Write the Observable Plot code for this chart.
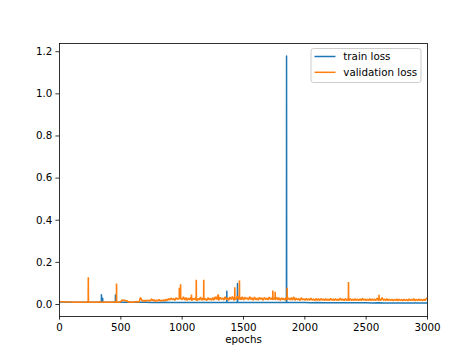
<!DOCTYPE html>
<html>
<head>
<meta charset="utf-8">
<script src="https://cdn.jsdelivr.net/npm/d3@7"></script>
<script src="https://cdn.jsdelivr.net/npm/@observablehq/plot@0.6"></script>
<style>
  html, body { margin: 0; padding: 0; background: #fff; }
  #chart { width: 474px; height: 355px; }
</style>
</head>
<body>
<div id="chart"></div>
<script>
// ---- data ----
const seriesNames = ["train loss", "validation loss"];
const seriesColors = ["#1f77b4", "#ff7f0e"];
const xTicks = [0, 500, 1000, 1500, 2000, 2500, 3000];
const yTicks = [0.0, 0.2, 0.4, 0.6, 0.8, 1.0, 1.2];

// validation loss sampled every 10 epochs (0..3000)
const valStep = 10;
const valBase = [
  0.014,0.013,0.013,0.013,0.012,0.013,0.012,0.012,0.012,0.012,
  0.012,0.011,0.012,0.011,0.012,0.011,0.011,0.012,0.011,0.011,
  0.011,0.012,0.011,0.013,0.011,0.012,0.011,0.011,0.012,0.011,
  0.011,0.012,0.011,0.013,0.011,0.011,0.012,0.011,0.011,0.012,
  0.011,0.011,0.012,0.011,0.011,0.013,0.011,0.012,0.011,0.011,
  0.014,0.022,0.019,0.021,0.017,0.018,0.012,0.013,0.011,0.012,
  0.011,0.013,0.012,0.014,0.012,0.013,0.033,0.022,0.016,0.019,
  0.015,0.021,0.017,0.020,0.016,0.026,0.018,0.023,0.015,0.021,
  0.017,0.024,0.016,0.020,0.018,0.022,0.017,0.025,0.019,0.028,
  0.022,0.030,0.024,0.027,0.020,0.032,0.025,0.028,0.030,0.026,
  0.024,0.036,0.021,0.033,0.019,0.030,0.022,0.034,0.020,0.029,
  0.023,0.031,0.019,0.028,0.022,0.035,0.020,0.030,0.024,0.027,
  0.019,0.032,0.022,0.029,0.020,0.033,0.021,0.036,0.024,0.043,
  0.022,0.034,0.025,0.030,0.021,0.037,0.023,0.031,0.020,0.035,
  0.024,0.038,0.022,0.033,0.025,0.040,0.027,0.034,0.023,0.036,
  0.021,0.034,0.026,0.031,0.022,0.037,0.024,0.032,0.020,0.035,
  0.023,0.030,0.021,0.034,0.025,0.031,0.020,0.033,0.024,0.029,
  0.022,0.035,0.024,0.031,0.021,0.030,0.025,0.034,0.022,0.032,
  0.020,0.031,0.023,0.029,0.021,0.034,0.024,0.030,0.022,0.033,
  0.021,0.036,0.020,0.030,0.023,0.028,0.019,0.032,0.022,0.027,
  0.020,0.029,0.021,0.027,0.020,0.030,0.021,0.026,0.019,0.028,
  0.020,0.027,0.019,0.028,0.021,0.026,0.019,0.027,0.020,0.025,
  0.019,0.029,0.020,0.026,0.019,0.027,0.020,0.025,0.019,0.030,
  0.020,0.026,0.019,0.028,0.020,0.025,0.019,0.027,0.020,0.025,
  0.019,0.027,0.020,0.025,0.019,0.026,0.019,0.029,0.020,0.026,
  0.019,0.025,0.020,0.027,0.019,0.026,0.020,0.025,0.019,0.030,
  0.019,0.026,0.019,0.033,0.020,0.025,0.019,0.027,0.019,0.025,
  0.019,0.025,0.018,0.024,0.019,0.026,0.018,0.025,0.019,0.024,
  0.018,0.025,0.019,0.024,0.018,0.026,0.019,0.024,0.019,0.027,
  0.018,0.024,0.019,0.026,0.019,0.024,0.018,0.025,0.019,0.028,
  0.030
];
// validation spikes: [epoch, loss] with their neighbouring epochs
const valSpikes = [
  [234,0.012],[235,0.129],[236,0.011],
  [464,0.011],[465,0.100],[466,0.012],
  [976,0.026],[977,0.080],[978,0.028],
  [986,0.027],[987,0.096],[988,0.025],
  [1075,0.022],[1076,0.047],[1077,0.021],
  [1114,0.020],[1115,0.117],[1116,0.022],
  [1175,0.021],[1176,0.118],[1177,0.024],
  [1294,0.023],[1295,0.048],[1296,0.022],
  [1428,0.023],[1429,0.082],[1430,0.025],
  [1466,0.024],[1467,0.114],[1468,0.026],
  [1738,0.022],[1739,0.066],[1740,0.024],
  [1757,0.023],[1758,0.060],[1759,0.021],
  [1855,0.022],[1856,0.080],[1857,0.024],
  [2355,0.020],[2356,0.107],[2357,0.021],
  [2604,0.020],[2605,0.046],[2606,0.021]
];

// train loss sampled every 50 epochs (0..3000)
const trainStep = 50;
const trainBase = [
  0.012,0.012,0.011,0.011,0.011,0.011,0.011,0.011,0.011,0.011,
  0.011,0.011,0.011,0.011,0.011,0.010,0.010,0.011,0.010,0.010,
  0.010,0.010,0.010,0.010,0.010,0.010,0.010,0.009,0.010,0.010,
  0.009,0.010,0.009,0.009,0.009,0.009,0.009,0.009,0.009,0.009,
  0.009,0.008,0.009,0.008,0.008,0.008,0.008,0.008,0.008,0.008,
  0.008,0.007,0.008,0.007,0.007,0.007,0.007,0.007,0.007,0.007,
  0.007
];
// train spikes: [epoch, loss] with their neighbouring epochs
const trainSpikes = [
  [341,0.011],[342,0.046],[343,0.011],
  [351,0.011],[352,0.030],[353,0.011],
  [455,0.011],[456,0.045],[457,0.011],
  [1363,0.010],[1364,0.063],[1365,0.010],
  [1450,0.010],[1451,0.100],[1452,0.010],
  [1850,0.009],[1851,1.180],[1852,0.009]
];

// ---- build tables ----
const build = (base, step, spikes, name) =>
  base.map((v, i) => ({epoch: i * step, loss: v, series: name}))
    .concat(spikes.map(([e, v]) => ({epoch: e, loss: v, series: name})))
    .sort((a, b) => a.epoch - b.epoch);
const train = build(trainBase, trainStep, trainSpikes, seriesNames[0]);
const val = build(valBase, valStep, valSpikes, seriesNames[1]);

const font = "DejaVu Sans, sans-serif";
const fs = 10.3;

const chart = Plot.plot({
  width: 474,
  height: 355,
  marginLeft: 59,
  marginRight: 47,
  marginTop: 43,
  marginBottom: 39,
  style: {fontFamily: font, fontSize: fs + "px", color: "#000", background: "#fff", overflow: "visible"},
  x: {domain: [0, 3000]},
  y: {domain: [-0.057, 1.239]},
  marks: [
    Plot.line(train, {x: "epoch", y: "loss", stroke: seriesColors[0], strokeWidth: 1.5, strokeLinejoin: "round", clip: true}),
    Plot.line(val, {x: "epoch", y: "loss", stroke: seriesColors[1], strokeWidth: 1.6, strokeLinejoin: "miter", clip: true}),
    Plot.frame({stroke: "#000", strokeWidth: 0.8}),
    Plot.axisX({ticks: xTicks, tickSize: 3.6, tickPadding: 4, strokeWidth: 0.8, label: null, fontSize: fs, fill: "#000", tickFormat: d => String(d)}),
    Plot.axisY({ticks: yTicks, tickSize: 3.6, tickPadding: 3.5, strokeWidth: 0.8, label: null, fontSize: fs, fill: "#000", tickFormat: d => d.toFixed(1)}),
    Plot.text(["epochs"], {frameAnchor: "bottom", dy: 26, text: d => d, fontSize: fs, fill: "#000"})
  ]
});

// legend (upper right, matplotlib style)
const svg = d3.select(chart);
const lg = svg.append("g").attr("font-family", font).attr("font-size", fs)
  .attr("text-anchor", "start");
lg.append("rect")
  .attr("x", 311).attr("y", 48.5).attr("width", 110).attr("height", 34)
  .attr("rx", 2.5).attr("fill", "#fff").attr("fill-opacity", 0.8)
  .attr("stroke", "#cccccc").attr("stroke-width", 1);
seriesNames.forEach((name, i) => {
  const y = 56.5 + i * 15.8;
  lg.append("line").attr("x1", 314.5).attr("x2", 335.5).attr("y1", y).attr("y2", y)
    .attr("stroke", seriesColors[i]).attr("stroke-width", 1.5);
  lg.append("text").attr("x", 343.3).attr("y", y).attr("dy", "0.35em")
    .attr("text-anchor", "start").attr("fill", "#000").text(name);
});

document.getElementById("chart").appendChild(chart);
</script>
</body>
</html>
